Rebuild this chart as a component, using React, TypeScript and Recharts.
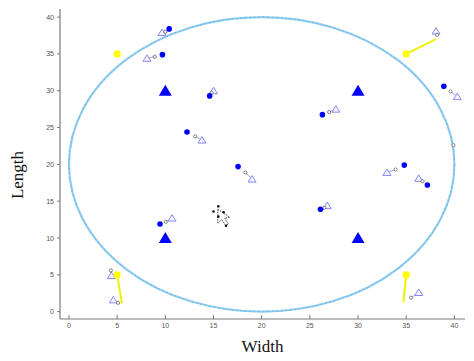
import React from 'react';
import { ScatterChart, Scatter, XAxis, YAxis, ReferenceArea, Label } from 'recharts';

// axis setup
const ticks = [0, 5, 10, 15, 20, 25, 30, 35, 40];
const xDomain = [-0.93, 41.1];
const yDomain = [-1.0, 41.1];

// field boundary (ellipse inscribed in this box)
const boundary = { x1: 0, x2: 40, y1: 0, y2: 40 };

// big filled anchors
const anchors = [
  { x: 10, y: 30 },
  { x: 30, y: 30 },
  { x: 10, y: 10 },
  { x: 30, y: 10 },
];

// yellow sinks and where their segments end
const yellowStart = [
  { x: 5, y: 35 },
  { x: 35, y: 35 },
  { x: 5, y: 5 },
  { x: 35, y: 5 },
];
const yellowEnd = [
  { x: 5.05, y: 35.05 },
  { x: 38.1, y: 37.0 },
  { x: 5.5, y: 1.1 },
  { x: 34.7, y: 1.3 },
];

// blue nodes
const blueDots = [
  { x: 10.4, y: 38.4 },
  { x: 9.7, y: 34.9 },
  { x: 14.6, y: 29.3 },
  { x: 12.25, y: 24.4 },
  { x: 17.55, y: 19.7 },
  { x: 26.3, y: 26.75 },
  { x: 38.9, y: 30.6 },
  { x: 34.8, y: 19.9 },
  { x: 37.2, y: 17.2 },
  { x: 26.1, y: 13.9 },
  { x: 9.45, y: 11.9 },
];

// small grey circles and their open triangles
const ghostCircles = [
  { x: 10.0, y: 38.0 },
  { x: 8.9, y: 34.6 },
  { x: 14.8, y: 29.7 },
  { x: 13.1, y: 23.8 },
  { x: 18.3, y: 18.9 },
  { x: 27.0, y: 27.1 },
  { x: 39.6, y: 29.9 },
  { x: 33.9, y: 19.3 },
  { x: 36.7, y: 17.7 },
  { x: 26.5, y: 14.1 },
  { x: 10.05, y: 12.2 },
  { x: 4.35, y: 5.6 },
  { x: 5.1, y: 1.2 },
  { x: 35.5, y: 1.9 },
  { x: 38.2, y: 37.6 },
  { x: 39.9, y: 22.6 },
];
const ghostTriangles = [
  { x: 9.65, y: 37.9 },
  { x: 8.1, y: 34.4 },
  { x: 15.0, y: 30.0 },
  { x: 13.8, y: 23.3 },
  { x: 19.0, y: 18.0 },
  { x: 27.7, y: 27.5 },
  { x: 40.3, y: 29.2 },
  { x: 33.0, y: 18.9 },
  { x: 36.3, y: 18.1 },
  { x: 26.8, y: 14.4 },
  { x: 10.7, y: 12.7 },
  { x: 4.4, y: 4.9 },
  { x: 4.6, y: 1.6 },
  { x: 36.3, y: 2.6 },
  { x: 38.1, y: 38.1 },
];

// little pointer glyph in the middle (arrow outline)
const pointer = [
  { x: 15.45, y: 13.9 },
  { x: 15.45, y: 12.0 },
  { x: 15.85, y: 12.5 },
  { x: 16.25, y: 11.7 },
  { x: 16.55, y: 11.9 },
  { x: 16.15, y: 12.7 },
  { x: 16.7, y: 12.8 },
  { x: 15.45, y: 13.9 },
];
const pointerDots = [
  { x: 15.5, y: 14.3 },
  { x: 15.0, y: 13.6 },
  { x: 16.05, y: 13.5 },
  { x: 15.5, y: 12.9 },
  { x: 16.3, y: 11.65 },
];

const AXIS = '#7a7a7a';
const TICK_TEXT = '#555';

const BottomTick = ({ x, y, payload }: any) => (
  <g>
    <line x1={x} x2={x} y1={y} y2={y - 4} stroke={AXIS} strokeWidth={1} />
    <text x={x} y={y + 8.5} textAnchor="middle" fontSize={7} fill={TICK_TEXT} fontFamily="Liberation Sans, Arial">
      {payload.value}
    </text>
  </g>
);

const LeftTick = ({ x, y, payload }: any) => (
  <g>
    <line x1={x - 3} x2={x} y1={y} y2={y} stroke={AXIS} strokeWidth={1} />
    <text x={x - 6} y={y + 2.5} textAnchor="end" fontSize={7} fill={TICK_TEXT} fontFamily="Liberation Sans, Arial">
      {payload.value}
    </text>
  </g>
);

const TopTick = ({ x, y }: any) => <line x1={x} x2={x} y1={y} y2={y + 4} stroke={AXIS} strokeWidth={1} />;
const RightTick = ({ x, y }: any) => <line x1={x} x2={x - 3} y1={y} y2={y} stroke={AXIS} strokeWidth={1} />;

const Empty = () => <g />;

const BigTriangle = ({ cx, cy }: any) => (
  <polygon points={`${cx},${cy - 6} ${cx + 6.5},${cy + 5} ${cx - 6.5},${cy + 5}`} fill="#0000ff" />
);
const OpenTriangle = ({ cx, cy }: any) => (
  <polygon
    points={`${cx},${cy - 3.5} ${cx + 4},${cy + 3} ${cx - 4},${cy + 3}`}
    fill="#f4f4ff"
    stroke="#7d7df5"
    strokeWidth={0.9}
  />
);
const GreyCircle = ({ cx, cy }: any) => <circle cx={cx} cy={cy} r={1.6} fill="#fff" stroke="#666" strokeWidth={0.8} />;
const BlueDot = ({ cx, cy }: any) => <circle cx={cx} cy={cy} r={2.8} fill="#0000ff" />;
const YellowDot = ({ cx, cy }: any) => <circle cx={cx} cy={cy} r={3.6} fill="#ffff00" />;
const BlackDot = ({ cx, cy }: any) => <circle cx={cx} cy={cy} r={1.3} fill="#111" />;

const BoundaryShape = ({ x, y, width, height }: any) => (
  <g>
    <ellipse cx={x + width / 2} cy={y + height / 2} rx={width / 2} ry={height / 2} fill="none" stroke="#8fcdf0" strokeWidth={2.2} />
    <ellipse
      cx={x + width / 2}
      cy={y + height / 2}
      rx={width / 2}
      ry={height / 2}
      fill="none"
      stroke="#4f93cc"
      strokeWidth={0.5}
      strokeDasharray="1.5 3"
    />
  </g>
);

const LengthLabel = (props: any) => {
  const vb = props.viewBox || { x: 30, y: 9, width: 30, height: 310 };
  const cx = vb.x - 13;
  const cy = vb.y + vb.height / 2 + 11;
  return (
    <text
      x={cx}
      y={cy}
      transform={`rotate(-90 ${cx} ${cy})`}
      textAnchor="middle"
      dominantBaseline="central"
      fontSize={17}
      fill="#111"
      fontFamily="Liberation Serif, serif"
    >
      Length
    </text>
  );
};

export default function App() {
  return (
    <div style={{ width: 474, height: 361, background: '#fff' }}>
      <style>{`body{margin:0}`}</style>
      <ScatterChart width={474} height={361} margin={{ top: 9, right: 9, bottom: 22, left: 30 }}>
        <XAxis
          type="number"
          dataKey="x"
          domain={xDomain}
          ticks={ticks}
          allowDataOverflow
          height={20}
          tickSize={0}
          tickMargin={0}
          tickLine={false}
          tick={<BottomTick />}
          axisLine={{ stroke: AXIS, strokeWidth: 1.2 }}
        >
          <Label
            value="Width"
            position="bottom"
            offset={1}
            style={{ fontFamily: 'Liberation Serif, serif', fontSize: 17, fill: '#111' }}
          />
        </XAxis>
        <XAxis
          xAxisId="top"
          orientation="top"
          type="number"
          dataKey="x"
          domain={xDomain}
          ticks={ticks}
          allowDataOverflow
          height={0}
          tickSize={0}
          tickMargin={0}
          tickLine={false}
          tick={<TopTick />}
          axisLine={{ stroke: AXIS, strokeWidth: 1.2 }}
        />
        <YAxis
          type="number"
          dataKey="y"
          domain={yDomain}
          ticks={ticks}
          allowDataOverflow
          width={30}
          tickSize={0}
          tickMargin={0}
          tickLine={false}
          tick={<LeftTick />}
          axisLine={{ stroke: AXIS, strokeWidth: 1.2 }}
          label={{ content: LengthLabel }}
        />
        <YAxis
          yAxisId="right"
          orientation="right"
          type="number"
          dataKey="y"
          domain={yDomain}
          ticks={ticks}
          allowDataOverflow
          width={0}
          tickSize={0}
          tickMargin={0}
          tickLine={false}
          tick={<RightTick />}
          axisLine={{ stroke: AXIS, strokeWidth: 1.2 }}
        />

        <ReferenceArea
          x1={boundary.x1}
          x2={boundary.x2}
          y1={boundary.y1}
          y2={boundary.y2}
          ifOverflow="visible"
          shape={<BoundaryShape />}
        />

        {ghostTriangles.map((t, i) => (
          <Scatter
            key={`track-${i}`}
            data={[ghostCircles[i], t]}
            line={{ stroke: '#8a8ad8', strokeWidth: 0.8 }}
            shape={<Empty />}
            isAnimationActive={false}
          />
        ))}

        {yellowStart.map((s, i) => (
          <Scatter
            key={`yl-${i}`}
            data={[s, yellowEnd[i]]}
            line={{ stroke: '#f2ef00', strokeWidth: 2 }}
            shape={<Empty />}
            isAnimationActive={false}
          />
        ))}

        <Scatter
          data={pointer}
          line={{ stroke: '#222', strokeWidth: 0.8, strokeDasharray: '1.5 1' }}
          shape={<Empty />}
          isAnimationActive={false}
        />
        <Scatter data={pointerDots} shape={<BlackDot />} isAnimationActive={false} />
        <Scatter data={ghostTriangles} shape={<OpenTriangle />} isAnimationActive={false} />
        <Scatter data={ghostCircles} shape={<GreyCircle />} isAnimationActive={false} />
        <Scatter data={blueDots} shape={<BlueDot />} isAnimationActive={false} />
        <Scatter data={yellowStart} shape={<YellowDot />} isAnimationActive={false} />
        <Scatter data={anchors} shape={<BigTriangle />} isAnimationActive={false} />
      </ScatterChart>
    </div>
  );
}
